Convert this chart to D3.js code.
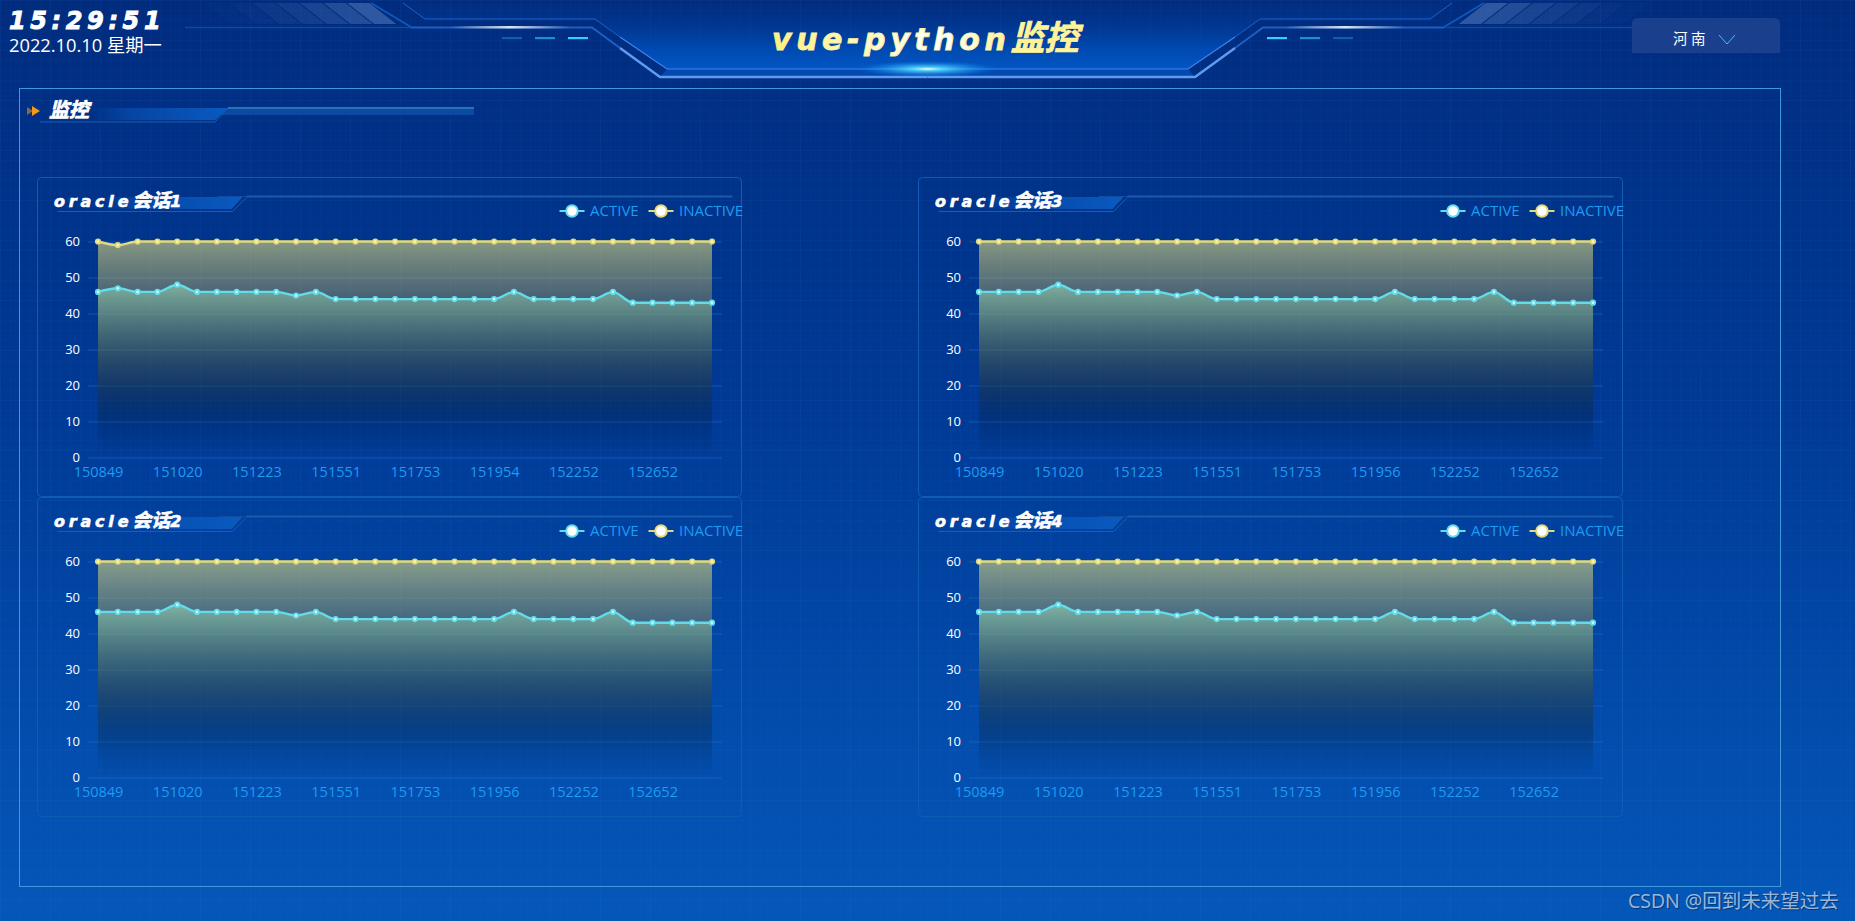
<!DOCTYPE html>
<html>
<head>
<meta charset="utf-8">
<title>vue-python监控</title>
<script src="https://cdn.jsdelivr.net/npm/d3@7"></script>
<style>
  html, body { margin: 0; padding: 0; background: #003088; overflow: hidden; }
  svg { display: block; }
  text { font-family: "Open Sans", "Noto Sans CJK SC", sans-serif; }
  .fancy { font-family: "DejaVu Sans", "Noto Sans CJK SC", sans-serif; font-weight: bold; font-style: italic; }
</style>
</head>
<body>
<svg id="screen" width="1855" height="921"></svg>
<script>
// chart values
var legendNames = ["ACTIVE", "INACTIVE"];
var yTicks = [0, 10, 20, 30, 40, 50, 60];
var tickIndex = [0, 4, 8, 12, 16, 20, 24, 28];

var labels1 = ["150849", "151020", "151223", "151551", "151753", "151954", "152252", "152652"];
var labels2 = ["150849", "151020", "151223", "151551", "151753", "151956", "152252", "152652"];

var active1 = [46, 47, 46, 46, 48, 46, 46, 46, 46, 46, 45, 46, 44, 44, 44, 44, 44, 44, 44, 44, 44, 46, 44, 44, 44, 44, 46, 43, 43, 43, 43, 43];
var active2 = [46, 46, 46, 46, 48, 46, 46, 46, 46, 46, 45, 46, 44, 44, 44, 44, 44, 44, 44, 44, 44, 46, 44, 44, 44, 44, 46, 43, 43, 43, 43, 43];
var inactive1 = [60, 59, 60, 60, 60, 60, 60, 60, 60, 60, 60, 60, 60, 60, 60, 60, 60, 60, 60, 60, 60, 60, 60, 60, 60, 60, 60, 60, 60, 60, 60, 60];
var inactive2 = [60, 60, 60, 60, 60, 60, 60, 60, 60, 60, 60, 60, 60, 60, 60, 60, 60, 60, 60, 60, 60, 60, 60, 60, 60, 60, 60, 60, 60, 60, 60, 60];

var cards = [
  { name: "oracle", title: "会话", num: "1", left: 37.5, top: 177.5, labels: labels1, active: active1, inactive: inactive1 },
  { name: "oracle", title: "会话", num: "2", left: 37.5, top: 497.5, labels: labels2, active: active2, inactive: inactive2 },
  { name: "oracle", title: "会话", num: "3", left: 918.5, top: 177.5, labels: labels2, active: active2, inactive: inactive2 },
  { name: "oracle", title: "会话", num: "4", left: 918.5, top: 497.5, labels: labels2, active: active2, inactive: inactive2 }
];

var cyan = "#62dcea";
var yellow = "#e2d97a";
var svg = d3.select("#screen");
var defs = svg.append("defs");

function addGradient(id, stops, horizontal) {
  var g = defs.append("linearGradient").attr("id", id)
    .attr("x1", 0).attr("y1", 0).attr("x2", horizontal ? 1 : 0).attr("y2", horizontal ? 0 : 1);
  stops.forEach(function (s) {
    g.append("stop").attr("offset", s[0]).attr("stop-color", s[1]).attr("stop-opacity", s[2]);
  });
}

addGradient("pageBg", [[0, "#012c7e", 1], [0.45, "#003a96", 1], [1, "#0457b9", 1]]);
addGradient("centerBg", [[0, "#0047ad", 0], [0.3, "#0047ad", 0.25], [0.7, "#0050bc", 0.8], [1, "#0256c4", 1]]);
addGradient("inactiveFill", [[0, "#f4e87a", 0.55], [0.55, "#4a4628", 0.3], [0.85, "#000000", 0.07], [1, "#000000", 0]]);
addGradient("activeFill", [[0, "#a8eec0", 0.5], [0.6, "#2a3a30", 0.22], [0.85, "#000000", 0.05], [1, "#000000", 0]]);
addGradient("ribbon", [[0, "#0a5ac0", 0], [0.3, "#0a5ac0", 0.5], [1, "#0a5ac0", 1]], true);
addGradient("glowLine", [[0, "#ffffff", 0], [0.5, "#ffffff", 0.85], [1, "#ffffff", 0]], true);
addGradient("titleFill", [[0, "#fff07a", 1], [0.55, "#ffffff", 1], [0.75, "#fff39a", 1], [1, "#fff39a", 1]], true);

var glow = defs.append("radialGradient").attr("id", "centerGlow");
glow.append("stop").attr("offset", 0).attr("stop-color", "#ffffff").attr("stop-opacity", 1);
glow.append("stop").attr("offset", 0.2).attr("stop-color", "#5fe0ff").attr("stop-opacity", 0.9);
glow.append("stop").attr("offset", 1).attr("stop-color", "#0a8cff").attr("stop-opacity", 0);

// faint grid texture of the page
var fine = defs.append("pattern").attr("id", "fineGrid").attr("width", 10).attr("height", 10).attr("patternUnits", "userSpaceOnUse");
fine.append("path").attr("d", "M10 0H0V10").attr("fill", "none").attr("stroke", "#2a7ad8").attr("stroke-opacity", 0.08);
var wide = defs.append("pattern").attr("id", "wideGrid").attr("width", 50).attr("height", 50).attr("patternUnits", "userSpaceOnUse");
wide.append("path").attr("d", "M50 0H0V50").attr("fill", "none").attr("stroke", "#2a7ad8").attr("stroke-opacity", 0.07);

svg.append("rect").attr("width", 1855).attr("height", 921).attr("fill", "url(#pageBg)");
svg.append("rect").attr("width", 1855).attr("height", 921).attr("fill", "url(#fineGrid)");
svg.append("rect").attr("width", 1855).attr("height", 921).attr("fill", "url(#wideGrid)");

// header decoration, the right half is the left half mirrored
function drawHeaderHalf(g) {
  // slanted stripes
  var alphas = [0.02, 0.05, 0.09, 0.13, 0.18, 0.24, 0.32];
  alphas.forEach(function (a, i) {
    var x = 205 + i * 23.7;
    g.append("path").attr("d", "M" + x + " 3H" + (x + 22) + "L" + (x + 49) + " 24H" + (x + 27) + "Z")
      .attr("fill", "#8fb4e8").attr("fill-opacity", a);
  });
  g.append("path").attr("d", "M185 27.5H411").attr("stroke", "#0f4a9e").attr("stroke-width", 1.5);
  g.append("path").attr("d", "M411 27.5H592L620 48").attr("fill", "none").attr("stroke", "#1f5fc4").attr("stroke-width", 2);
  g.append("path").attr("d", "M371 3L411 27").attr("fill", "none").attr("stroke", "#0f58b8").attr("stroke-width", 2);
  g.append("path").attr("d", "M403 3L425 19H595L620 37").attr("fill", "none").attr("stroke", "#1b62c8").attr("stroke-width", 1);
  g.append("path").attr("d", "M620 48L660 77H927.5").attr("fill", "none").attr("stroke", "#5f9cf0").attr("stroke-width", 2.5);
  g.append("path").attr("d", "M620 37L667 69H927.5").attr("fill", "none").attr("stroke", "#3f86ee").attr("stroke-width", 1.2);
  g.append("rect").attr("x", 450).attr("y", 26).attr("width", 120).attr("height", 2.5).attr("fill", "url(#glowLine)");
  // three dashes
  [[502, 0.3], [535, 0.6], [568, 1]].forEach(function (d) {
    g.append("rect").attr("x", d[0]).attr("y", 37).attr("width", 20).attr("height", 2.2).attr("fill", "#34d0f8").attr("opacity", d[1]);
  });
}

svg.append("path").attr("d", "M403 0L425 19H595L667 69H1188L1260 19H1430L1452 0Z").attr("fill", "url(#centerBg)");
svg.append("path").attr("d", "M667 69H1188L1195 77H660Z").attr("fill", "#0349b0");
var headLeft = svg.append("g");
var headRight = svg.append("g").attr("transform", "translate(1855,0) scale(-1,1)");
drawHeaderHalf(headLeft);
drawHeaderHalf(headRight);
svg.append("ellipse").attr("cx", 927.5).attr("cy", 69).attr("rx", 70).attr("ry", 8).attr("fill", "url(#centerGlow)");

var bigTitle = svg.append("text").attr("class", "fancy").attr("x", 772).attr("y", 50)
  .attr("font-size", 30).attr("letter-spacing", 4.6).attr("fill", "url(#titleFill)")
  .attr("stroke", "#fff39a").attr("stroke-width", 0.8);
bigTitle.append("tspan").text("vue-python");
bigTitle.append("tspan").attr("font-size", 34).attr("letter-spacing", 0).text("监控");

// clock
svg.append("text").attr("class", "fancy").attr("x", 9).attr("y", 29)
  .attr("font-size", 24).attr("letter-spacing", 4.6).attr("fill", "#ffffff")
  .attr("stroke", "#ffffff").attr("stroke-width", 0.9).text("15:29:51");
svg.append("text").attr("x", 9).attr("y", 52).attr("font-size", 18.3).attr("fill", "#ffffff").text("2022.10.10 星期一");

// region picker
svg.append("path").attr("d", "M1632 53V24Q1632 18 1638 18H1774Q1780 18 1780 24V53Z").attr("fill", "#1a3f8c");
svg.append("text").attr("x", 1691).attr("y", 44).attr("text-anchor", "middle").attr("font-size", 14.5)
  .attr("letter-spacing", 3.4).attr("fill", "#ffffff").text("河南");
svg.append("path").attr("d", "M1719 35L1727 44L1735 35").attr("fill", "none").attr("stroke", "#42bff0").attr("stroke-width", 1);

// outer panel
svg.append("rect").attr("x", 19.5).attr("y", 88.5).attr("width", 1761).attr("height", 798)
  .attr("fill", "none").attr("stroke", "#3f97dc").attr("stroke-width", 1);

// panel heading
svg.append("path").attr("d", "M27 107L33 111L27 115Z").attr("fill", "#8a6a40");
svg.append("path").attr("d", "M32 106L40 111L32 116Z").attr("fill", "#f59a16");
svg.append("path").attr("d", "M228 108H474V115H220L228 108Z").attr("fill", "#0a4aa2");
svg.append("path").attr("d", "M90 108H228L215 120H90Z").attr("fill", "url(#ribbon)");
svg.append("path").attr("d", "M228 108H474").attr("stroke", "#2b74b4").attr("stroke-width", 2);
svg.append("path").attr("d", "M40 122H215L228 108").attr("fill", "none").attr("stroke", "#1a5cb0").attr("stroke-width", 1);
svg.append("text").attr("class", "fancy").attr("x", 49).attr("y", 117).attr("font-size", 20)
  .attr("fill", "#ffffff").attr("stroke", "#ffffff").attr("stroke-width", 0.7).text("监控");

// one chart card
function drawCard(card) {
  var g = svg.append("g").attr("transform", "translate(" + card.left + "," + card.top + ")");

  g.append("rect").attr("width", 704).attr("height", 319).attr("rx", 4)
    .attr("fill", "none").attr("stroke", "#0f5cb4").attr("stroke-width", 1);

  // card heading ribbon
  g.append("path").attr("d", "M60 19.5H205L194 31.5H60Z").attr("fill", "url(#ribbon)");
  g.append("path").attr("d", "M180 19H209").attr("stroke", "#124c9c").attr("stroke-width", 1);
  g.append("path").attr("d", "M209 19H695").attr("stroke", "#1a5cac").attr("stroke-width", 2);
  g.append("path").attr("d", "M20 34H195L209 20").attr("fill", "none").attr("stroke", "#1a5cb0").attr("stroke-width", 1);
  var heading = g.append("text").attr("class", "fancy").attr("x", 16.5).attr("y", 29).attr("font-size", 16)
    .attr("letter-spacing", 3.8).attr("fill", "#ffffff").attr("stroke", "#ffffff").attr("stroke-width", 0.6);
  heading.append("tspan").text(card.name);
  heading.append("tspan").attr("font-size", 19).attr("letter-spacing", 0).text(card.title);
  heading.append("tspan").text(card.num);

  var x = d3.scaleLinear().domain([0, card.active.length - 1]).range([60.5, 674.5]);
  var y = d3.scaleLinear().domain([0, 60]).range([280, 64]);

  // y axis with grid lines
  var yAxis = g.append("g").attr("transform", "translate(50.5,0)")
    .call(d3.axisLeft(y).tickValues(yTicks).tickSizeInner(-634).tickSizeOuter(0).tickPadding(8));
  yAxis.select(".domain").remove();
  yAxis.selectAll("line").attr("stroke", "#2a78c8").attr("stroke-opacity", 0.45);
  yAxis.selectAll("text").attr("x", -8).attr("fill", "#ffffff").attr("font-size", 13)
    .attr("font-family", "'Open Sans', sans-serif").attr("font-weight", 500);

  // x axis labels
  var xAxis = g.append("g").attr("transform", "translate(0,280)")
    .call(d3.axisBottom(x).tickValues(tickIndex).tickFormat(function (d, i) { return card.labels[i]; }).tickSize(0).tickPadding(9));
  xAxis.select(".domain").remove();
  xAxis.selectAll("text").attr("fill", "#1c9cf2").attr("font-size", 14.5)
    .attr("font-family", "'Open Sans', sans-serif");

  // inactive first so that active sits on top of it
  drawSeries(g, card.inactive, x, y, yellow, "#fff6b4", "inactiveFill");
  drawSeries(g, card.active, x, y, cyan, "#d8fbff", "activeFill");

  // legend
  var legendX = [522, 611];
  var legendColors = [cyan, yellow];
  legendNames.forEach(function (name, i) {
    var row = g.append("g").attr("transform", "translate(" + legendX[i] + ",33.5)");
    row.append("line").attr("x1", 0).attr("x2", 25).attr("stroke", legendColors[i]).attr("stroke-width", 2);
    row.append("circle").attr("cx", 12.5).attr("r", 5.8).attr("fill", "#ffffff")
      .attr("stroke", legendColors[i]).attr("stroke-width", 2);
    row.append("text").attr("x", 30.5).attr("y", 5).attr("font-size", 15).attr("fill", "#1c9cf2").text(name);
  });
}

function drawSeries(g, values, x, y, color, dotColor, fillId) {
  var area = d3.area().curve(d3.curveMonotoneX)
    .x(function (d, i) { return x(i); }).y0(y(0)).y1(function (d) { return y(d); });
  var line = d3.line().curve(d3.curveMonotoneX)
    .x(function (d, i) { return x(i); }).y(function (d) { return y(d); });

  g.append("path").datum(values).attr("d", area).attr("fill", "url(#" + fillId + ")");
  g.append("path").datum(values).attr("d", line).attr("fill", "none").attr("stroke", color).attr("stroke-width", 2.4);
  g.append("g").selectAll("circle").data(values).join("circle")
    .attr("cx", function (d, i) { return x(i); })
    .attr("cy", function (d) { return y(d); })
    .attr("r", 2.2).attr("fill", dotColor).attr("stroke", color).attr("stroke-width", 1.8);
}

cards.forEach(drawCard);

// watermark
svg.append("text").attr("x", 1628).attr("y", 908).attr("font-size", 19.5)
  .attr("font-family", "'Liberation Sans', 'Noto Sans CJK SC', sans-serif")
  .attr("fill", "#ffffff").attr("fill-opacity", 0.62)
  .style("text-shadow", "1px 1px 1px rgba(0,0,0,0.6)").text("CSDN @回到未来望过去");
</script>
</body>
</html>
